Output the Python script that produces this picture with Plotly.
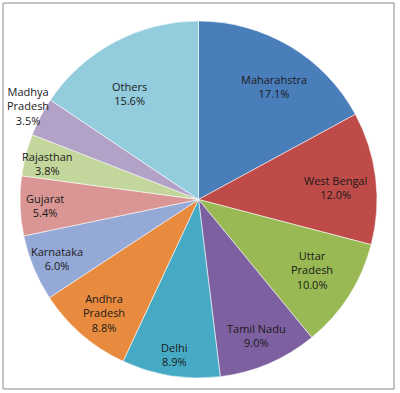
import math
import plotly.graph_objects as go

states = ["Maharahstra", "West Bengal", "Uttar Pradesh", "Tamil Nadu", "Delhi",
          "Andhra Pradesh", "Karnataka", "Gujarat", "Rajasthan", "Madhya Pradesh", "Others"]
label_text = ["Maharahstra", "West Bengal", "Uttar<br>Pradesh", "Tamil Nadu", "Delhi",
              "Andhra<br>Pradesh", "Karnataka", "Gujarat", "Rajasthan", "Madhya<br>Pradesh", "Others"]
shares = [17.1, 12.0, 10.0, 9.0, 8.9, 8.8, 6.0, 5.4, 3.8, 3.5, 15.6]
colors = ["#4A7EBB", "#BE4B48", "#98B954", "#7D60A0", "#46AAC5", "#E98B3E",
          "#95A9D7", "#D99694", "#C3D69B", "#B3A2C7", "#93CDDD"]
label_radius = [0.76, 0.77, 0.75, 0.83, 0.88, 0.83, 0.86, 0.86, 0.87, 1.09, 0.71]
label_shift_deg = [3, 2, -1, 0, 0, -1, 0, 0, -1, 1, -5]

W, H = 400, 393
cx, cy, R = 198.5, 199.5, 178.5
dom_x = [(cx - R) / W, (cx + R) / W]
dom_y = [(H - (cy + R)) / H, (H - (cy - R)) / H]

fig = go.Figure(go.Pie(
    labels=states, values=shares, sort=False, direction="clockwise", rotation=0,
    marker=dict(colors=colors, line=dict(color="rgba(255,255,255,0.7)", width=0.8)),
    textinfo="none", hoverinfo="label+percent", showlegend=False,
    domain=dict(x=dom_x, y=dom_y),
))

total = sum(shares)
cum = 0.0
annotations = []
for txt, v, rf, sh in zip(label_text, shares, label_radius, label_shift_deg):
    mid = (cum + v / 2) / total * 2 * math.pi + math.radians(sh)
    cum += v
    px = cx + rf * R * math.sin(mid)
    py = cy - rf * R * math.cos(mid)
    annotations.append(dict(
        x=px / W, y=(H - py) / H, xref="paper", yref="paper",
        text=f"{txt}<br>{v:.1f}%", showarrow=False,
        font=dict(family="Open Sans", size=11, color="#1a1a1a"),
        xanchor="center", yanchor="middle", align="center",
    ))

fig.update_layout(
    width=W, height=H, margin=dict(l=0, r=0, t=0, b=0),
    paper_bgcolor="white", plot_bgcolor="white",
    annotations=annotations,
    shapes=[dict(type="rect", xref="paper", yref="paper",
                 x0=3 / W, x1=394 / W, y0=(H - 389) / H, y1=(H - 3) / H,
                 line=dict(color="#8A8A8A", width=1), fillcolor="rgba(0,0,0,0)")],
)

fig.write_html("out.html", config={"displayModeBar": False},
               post_script="document.body.style.margin='0';document.body.style.overflow='hidden';")
